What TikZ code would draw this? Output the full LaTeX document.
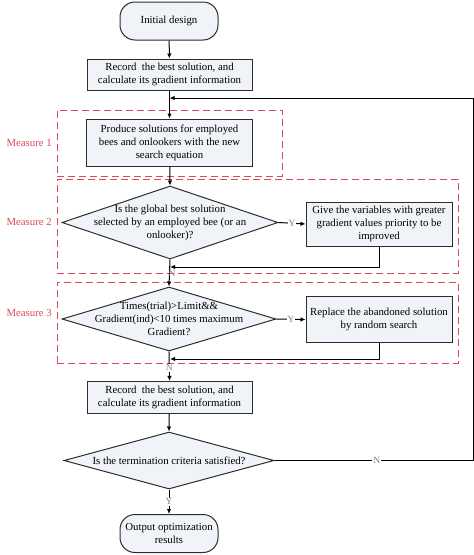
\documentclass[tikz,border=0pt]{standalone}
\usepackage{fontspec}
\setmainfont{Liberation Serif}
\usetikzlibrary{arrows.meta,shapes.geometric}
\definecolor{boxfill}{RGB}{240,243,248}
\definecolor{boxline}{RGB}{45,45,45}
\definecolor{mred}{RGB}{215,75,90}
\definecolor{lab}{RGB}{120,128,150}
\tikzset{
  x=1pt,y=-1pt,
  every node/.style={font=\fontsize{10.8}{13}\selectfont},
  proc/.style={draw=boxline,line width=1pt,fill=boxfill,rectangle,align=center,inner sep=1pt},
  term/.style={draw=boxline,line width=1pt,fill=boxfill,rectangle,rounded corners=15pt,align=center,inner sep=1pt,minimum width=98pt,minimum height=38pt},
  dia/.style={draw=boxline,line width=1pt,fill=boxfill,diamond,inner sep=0pt},
  dtext/.style={align=center,inner sep=0pt},
  mbox/.style={draw=mred,line width=0.9pt,dash pattern=on 7pt off 4pt,rectangle,inner sep=0pt},
  mlab/.style={text=mred,anchor=east,inner sep=0pt},
  yn/.style={text=lab,fill=white,inner sep=1pt,font=\fontsize{9.5}{10}\selectfont},
  conn/.style={draw=black,line width=1pt,-{Latex[length=5pt,width=4.5pt]}},
  line/.style={draw=black,line width=1pt},
}
\begin{document}
\begin{tikzpicture}
\useasboundingbox (0,0) rectangle (474,555);
% measure boxes
\node[mbox,minimum width=225pt,minimum height=66pt] (m1) at (169.5,143) {};
\node[mbox,minimum width=401pt,minimum height=94pt] (m2) at (257.5,226) {};
\node[mbox,minimum width=401pt,minimum height=81pt] (m3) at (257.5,322.5) {};
\node[mlab] (m1l) at (52,143) {Measure 1};
\node[mlab] (m2l) at (52,222) {Measure 2};
\node[mlab] (m3l) at (52,313) {Measure 3};
% nodes
\node[term] (init) at (169,21) {Initial design};
\node[proc,minimum width=165pt,minimum height=31pt] (rec1) at (169.5,74.5) {Record~ the best solution, and\\calculate its gradient information};
\node[proc,minimum width=166pt,minimum height=47pt] (prod) at (169.5,142.5) {Produce solutions for employed\\bees and onlookers with the new\\search equation};
\node[dia,minimum width=216pt,minimum height=73pt] (d1) at (170,222.5) {};
\node[dtext] (d1t) at (d1.center) {Is the global best solution\\selected by an employed bee (or an\\onlooker)?};
\node[proc,minimum width=146pt,minimum height=44pt] (give) at (379,224) {Give the variables with greater\\gradient values priority to be\\improved};
\node[dia,minimum width=214pt,minimum height=64pt] (d2) at (169,319) {};
\node[dtext] (d2t) at (d2.center) {Times(trial)>Limit\&\&\\Gradient(ind)<10 times maximum\\Gradient?};
\node[proc,minimum width=146pt,minimum height=46pt] (repl) at (379,319.5) {Replace the abandoned solution\\by random search};
\node[proc,minimum width=165pt,minimum height=32pt] (rec2) at (169.5,397.5) {Record~ the best solution, and\\calculate its gradient information};
\node[dia,minimum width=210pt,minimum height=57pt] (d3) at (169,460.5) {};
\node[dtext] (d3t) at (d3.center) {Is the termination criteria satisfied?};
\node[term] (out) at (169,533.5) {Output optimization\\results};
% junction coordinates
\coordinate (j0) at (169.5,98);
\coordinate (rt) at (473,460.5);
\coordinate (rtop) at (473,98);
\coordinate (g1) at (379,267);
\coordinate (g1e) at (170,267);
\coordinate (g2) at (379,359);
\coordinate (g2e) at (170,359);
% connectors
\draw[conn] (init) -- (rec1);
\draw[conn] (rec1) -- (prod);
\draw[conn] (prod) -- (d1.north);
\draw[conn] (d1.east) -- node[yn] {Y} (give.west);
\draw[conn] (give.south) -- (g1) -- (g1e);
\draw[conn] (d1.south) -- (d2.north);
\node[yn,fill=none] (n1) at (172,273) {N};
\draw[conn] (d2.east) -- node[yn] {Y} (repl.west);
\draw[conn] (repl.south) -- (g2) -- (g2e);
\draw[conn] (d2.south) -- node[yn,pos=0.55] {N} (rec2.north);
\draw[conn] (rec2) -- (d3.north);
\draw[conn] (d3.south) -- node[yn,pos=0.5] {Y} (out.north);
\draw[conn] (d3.east) -- node[yn,pos=0.515] {N} (rt) -- (rtop) -- (j0);
\end{tikzpicture}
\end{document}
